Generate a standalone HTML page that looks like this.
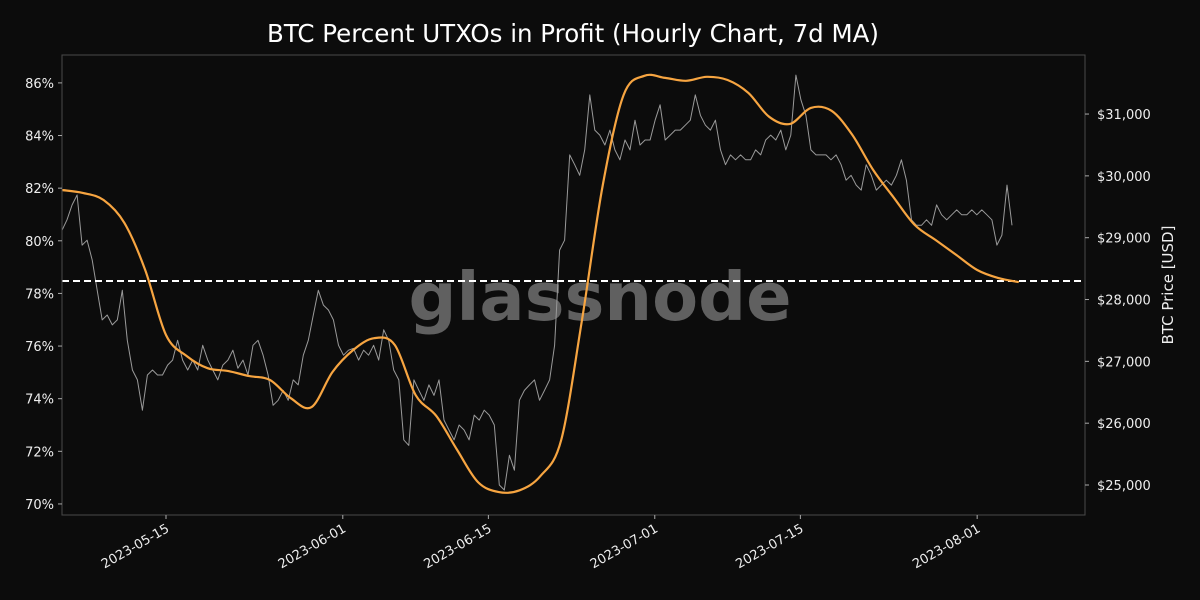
<!DOCTYPE html>
<html><head><meta charset="utf-8">
<style>
html,body{margin:0;padding:0;background:#0c0c0c;}
svg{display:block;font-family:"DejaVu Sans","Liberation Sans",sans-serif;}
</style></head>
<body>
<svg id="chart" width="1200" height="600" viewBox="0 0 1200 600">
<rect x="0" y="0" width="1200" height="600" fill="#0c0c0c"/>
<text x="573" y="42" fill="#ffffff" font-size="24.5" text-anchor="middle">BTC Percent UTXOs in Profit (Hourly Chart, 7d MA)</text>
<text x="600" y="320" fill="#6a6a6a" font-size="67" font-weight="bold" text-anchor="middle" font-family="DejaVu Sans, sans-serif" opacity="0.9">glassnode</text>
<g id="plot"></g>
<rect x="62" y="55" width="1023" height="460" fill="none" stroke="#4a4a4a" stroke-width="1"/>
<text transform="translate(1173,285) rotate(-90)" fill="#eeeeee" font-size="15" text-anchor="middle">BTC Price [USD]</text>
</svg>
<script>
// ---- data ----
const startDate = Date.UTC(2023,4,5,0);
const priceStepHours = 11.6;
const priceValues = [29120,29290,29530,29690,28880,28960,28640,28150,27670,27750,27590,27670,28150,27340,26860,26700,26210,26780,26860,26780,26780,26940,27020,27340,27020,26860,27020,26860,27260,27020,26860,26700,26940,27020,27180,26890,27020,26780,27260,27340,27100,26780,26290,26370,26530,26370,26700,26620,27100,27340,27750,28150,27910,27830,27670,27260,27100,27180,27210,27020,27180,27100,27260,27020,27510,27340,26860,26700,25730,25640,26700,26530,26370,26620,26450,26700,26050,25890,25730,25970,25890,25730,26130,26050,26210,26130,25970,25000,24920,25480,25240,26370,26530,26620,26700,26370,26530,26700,27260,28800,28960,30340,30180,30010,30420,31310,30740,30660,30500,30740,30420,30260,30580,30420,30900,30500,30580,30580,30900,31150,30580,30660,30740,30740,30820,30900,31310,30980,30820,30740,30900,30420,30180,30340,30260,30340,30260,30260,30420,30340,30580,30660,30580,30740,30420,30660,31630,31230,30980,30420,30340,30340,30340,30260,30340,30180,29930,30010,29850,29770,30180,30010,29770,29850,29930,29850,30010,30260,29930,29290,29200,29200,29290,29200,29530,29370,29290,29370,29450,29370,29370,29450,29370,29450,29370,29290,28880,29040,29850,29200];
const maStepDays = 2;
const maValues = [81.93,81.82,81.55,80.68,78.89,76.42,75.62,75.16,75.05,74.86,74.71,74.02,73.68,75.01,75.85,76.30,76.04,74.14,73.34,72.05,70.83,70.45,70.52,71.06,72.43,76.99,82.12,85.54,86.27,86.19,86.08,86.23,86.11,85.62,84.71,84.44,85.05,84.94,84.02,82.69,81.63,80.60,80.03,79.46,78.89,78.59,78.43];
const thresholdValue = 78.47;
const leftTicks = [70,72,74,76,78,80,82,84,86];
const rightTicks = [25000,26000,27000,28000,29000,30000,31000];
const xTickLabels = ["2023-05-15","2023-06-01","2023-06-15","2023-07-01","2023-07-15","2023-08-01"];

// ---- axes ----
const PL=62,PR=1085,PT=55,PB=515;
const DAY=86400000;
const xMin=startDate, xMax=startDate+98.37*DAY;
const xs=t=>PL+(t-xMin)/(xMax-xMin)*(PR-PL);
const yL=v=>PT+(87.06-v)/(87.06-69.58)*(PB-PT);
const yR=v=>PT+(31955-v)/(31955-24515)*(PB-PT);
const NS='http://www.w3.org/2000/svg';
const plot=document.getElementById('plot');
const svg=document.getElementById('chart');
function mk(tag,attrs,parent){const e=document.createElementNS(NS,tag);for(const k in attrs)e.setAttribute(k,attrs[k]);(parent||plot).appendChild(e);return e;}

leftTicks.forEach(v=>{
  const y=yL(v);
  const t=mk('line',{x1:PL-4,x2:PL,y1:y,y2:y,stroke:'#aaa'},svg);
  
  
  const l=mk('text',{x:PL-8,y:y+5,fill:'#eeeeee','font-size':13,'text-anchor':'end'},svg);
  l.textContent=v+'%';
  
  
});
rightTicks.forEach(v=>{
  const y=yR(v);
  const t=mk('line',{x1:PR,x2:PR+4,y1:y,y2:y,stroke:'#aaa'},svg);
  
  
  const l=mk('text',{x:PR+12,y:y+5,fill:'#eeeeee','font-size':13,'text-anchor':'start'},svg);
  l.textContent='$'+v.toLocaleString('en-US');
  
  
});
xTickLabels.forEach(s=>{
  const p=s.split('-').map(Number);
  const x=xs(Date.UTC(p[0],p[1]-1,p[2]));
  const t=mk('line',{x1:x,x2:x,y1:PB,y2:PB+4,stroke:'#aaa'},svg);
  
  
  const l=mk('text',{transform:`translate(${x+4},${PB+16}) rotate(-30)`,fill:'#eeeeee','font-size':13,'text-anchor':'end'},svg);
  l.textContent=s;
  
  
});

let d='';
priceValues.forEach((v,i)=>{
  const x=xs(startDate+i*priceStepHours*3600000), y=yR(v);
  d+=(i?'L':'M')+x.toFixed(1)+','+y.toFixed(1);
});
const pl=mk('path',{d:d,fill:'none',stroke:'#9a9a9a','stroke-width':1,'stroke-linejoin':'round'});



const th=mk('line',{x1:PL,x2:PR,y1:yL(thresholdValue),y2:yL(thresholdValue),stroke:'#ffffff','stroke-width':2,'stroke-dasharray':'7,4'});



const pts=maValues.map((v,i)=>[xs(startDate+i*maStepDays*DAY),yL(v)]);
let m='M'+pts[0][0].toFixed(1)+','+pts[0][1].toFixed(1);
for(let i=0;i<pts.length-1;i++){
  const p0=pts[Math.max(0,i-1)],p1=pts[i],p2=pts[i+1],p3=pts[Math.min(pts.length-1,i+2)];
  const c1=[p1[0]+(p2[0]-p0[0])/6,p1[1]+(p2[1]-p0[1])/6];
  const c2=[p2[0]-(p3[0]-p1[0])/6,p2[1]-(p3[1]-p1[1])/6];
  m+=`C${c1[0].toFixed(1)},${c1[1].toFixed(1)} ${c2[0].toFixed(1)},${c2[1].toFixed(1)} ${p2[0].toFixed(1)},${p2[1].toFixed(1)}`;
}
const ma=mk('path',{d:m,fill:'none',stroke:'#f7a541','stroke-width':2.2,'stroke-linejoin':'round'});


</script>
</body></html>
